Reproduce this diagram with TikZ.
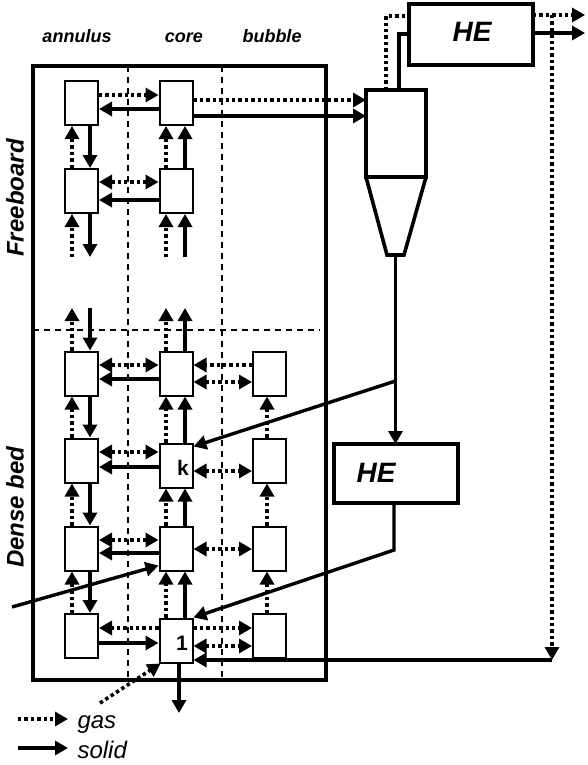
\documentclass[tikz,border=0pt]{standalone}
\usepackage{fontspec}
\setmainfont{Liberation Sans}
\usetikzlibrary{arrows.meta}

\begin{document}
\begin{tikzpicture}[x=1pt,y=-1pt,>={Triangle[length=13pt,width=14pt]},
  cell/.style={draw,line width=2pt,minimum width=33pt,minimum height=44pt,inner sep=0pt},
  unit/.style={draw,line width=3.6pt,inner sep=0pt,outer sep=0pt},
  gas/.style={line width=3.6pt,dash pattern=on 3.4pt off 3pt},
  sol/.style={line width=3.4pt},
  zone/.style={line width=1.4pt,dash pattern=on 6pt off 5pt},
  colname/.style={anchor=base,font=\bfseries\itshape\fontsize{18}{20}\selectfont},
  regname/.style={rotate=90,font=\bfseries\itshape\fontsize{24}{26}\selectfont},
  hename/.style={font=\bfseries\itshape\fontsize{28}{30}\selectfont},
  cellno/.style={font=\bfseries\fontsize{21}{22}\selectfont},
  legname/.style={anchor=base west,font=\itshape\fontsize{24}{26}\selectfont}]
\useasboundingbox (0,0) rectangle (587,765);

\node[draw,line width=3.8pt,minimum width=293pt,minimum height=614pt,outer sep=0pt] (bed) at (179.5,373) {};
\draw[zone] (bed.north -| 128,0) -- (bed.south -| 128,0);
\draw[zone] (bed.north -| 222,0) -- (bed.south -| 222,0);
\coordinate (zend) at (320,330);
\draw[zone] (bed.west |- zend) -- (zend);

\node[colname] (lann) at (77,43) {annulus};
\node[colname] (lcore) at (184,43) {core};
\node[colname] (lbub) at (272,43) {bubble};
\node[regname] (lfree) at (15,198) {Freeboard};
\node[regname] (ldense) at (15,507) {Dense bed};

\node[cell] (fa1) at (81.5,103) {};
\node[cell] (fc1) at (176,103) {};
\node[cell] (fa2) at (81.5,191) {};
\node[cell] (fc2) at (176,191) {};
\foreach \r/\y in {4/373.5,3/460.5,2/548.5,1/636} {
  \node[cell] (a\r) at (81.5,\y) {};
  \node[cell] (b\r) at (269.5,\y) {};
}
\node[cell] (c4) at (176,373.5) {};
\node[cell] (c3) at (176,465.5) {};
\node[cell] (c2) at (176,548.5) {};
\node[cell] (c1) at (176,640.5) {};
\node[cellno] (kno) at ([xshift=7pt,yshift=-2.5pt]c3.center) {k};
\node[cellno] (one) at ([xshift=6pt,yshift=-2.5pt]c1.center) {1};

\draw[gas,->] (fa1.east |- 0,95) -- (fc1.west |- 0,95);
\draw[sol,->] (fc1.west |- 0,109) -- (fa1.east |- 0,109);
\draw[gas,<->] (fa2.east |- 0,182) -- (fc2.west |- 0,182);
\draw[sol,->] (fc2.west |- 0,200) -- (fa2.east |- 0,200);

\draw[gas,<->] (a4.east |- 0,365) -- (c4.west |- 0,365);
\draw[sol,->] (c4.west |- 0,379) -- (a4.east |- 0,379);
\draw[gas,->] (b4.west |- 0,365) -- (c4.east |- 0,365);
\draw[gas,<->] (c4.east |- 0,382) -- (b4.west |- 0,382);
\draw[gas,<->] (a3.east |- 0,452) -- (c3.west |- 0,452);
\draw[sol,->] (c3.west |- 0,467) -- (a3.east |- 0,467);
\draw[gas,<->] (c3.east |- 0,471) -- (b3.west |- 0,471);
\draw[gas,<->] (a2.east |- 0,540) -- (c2.west |- 0,540);
\draw[sol,->] (c2.west |- 0,553) -- (a2.east |- 0,553);
\draw[gas,<->] (c2.east |- 0,549) -- (b2.west |- 0,549);
\draw[gas,->] (c1.west |- 0,628) -- (a1.east |- 0,628);
\draw[sol,->] (a1.east |- 0,643) -- (c1.west |- 0,643);
\draw[gas,->] (c1.east |- 0,628) -- (b1.west |- 0,628);
\draw[gas,<->] (c1.east |- 0,646) -- (b1.west |- 0,646);

\foreach \lo/\hi in {1/2,2/3,3/4} {
  \draw[gas,->] (a\lo.north -| 72,0) -- (a\hi.south -| 72,0);
  \draw[sol,->] (a\hi.south -| 90,0) -- (a\lo.north -| 90,0);
  \draw[gas,->] (c\lo.north -| 166,0) -- (c\hi.south -| 166,0);
  \draw[sol,->] (c\lo.north -| 185,0) -- (c\hi.south -| 185,0);
  \draw[gas,->] (b\lo.north -| 267,0) -- (b\hi.south -| 267,0);
}
\draw[gas,->] (fa2.north -| 72,0) -- (fa1.south -| 72,0);
\draw[sol,->] (fa1.south -| 90,0) -- (fa2.north -| 90,0);
\draw[gas,->] (fc2.north -| 166,0) -- (fc1.south -| 166,0);
\draw[sol,->] (fc2.north -| 185,0) -- (fc1.south -| 185,0);

\coordinate (fbot) at (0,257);
\coordinate (dtop) at (0,308);
\draw[gas,->] (fbot -| 72,0) -- (fa2.south -| 72,0);
\draw[sol,->] (fa2.south -| 90,0) -- (fbot -| 90,0);
\draw[gas,->] (fbot -| 166,0) -- (fc2.south -| 166,0);
\draw[sol,->] (fbot -| 185,0) -- (fc2.south -| 185,0);
\draw[gas,->] (a4.north -| 72,0) -- (dtop -| 72,0);
\draw[sol,->] (dtop -| 90,0) -- (a4.north -| 90,0);
\draw[gas,->] (c4.north -| 166,0) -- (dtop -| 166,0);
\draw[sol,->] (c4.north -| 185,0) -- (dtop -| 185,0);

\node[unit,minimum width=60pt,minimum height=87pt] (cyc) at (396,133.5) {};
\coordinate (cbot) at (395.5,255);
\draw[line width=3.6pt] (cyc.south west) -- (387,255) -- (404,255) -- (cyc.south east);
\node[unit,minimum width=124pt,minimum height=61pt] (he1) at (471,34.5) {};
\node[hename] (he1t) at (472,32) {HE};
\node[unit,minimum width=124pt,minimum height=59pt] (he2) at (396,473.5) {};
\node[hename] (he2t) at (376,473) {HE};

\draw[gas,->] (fc1.east |- 0,100) -- (cyc.west |- 0,100);
\draw[sol,->] (fc1.east |- 0,116) -- (cyc.west |- 0,116);
\draw[gas] (cyc.north -| 386,0) |- (he1.west |- 0,16);
\draw[sol] (cyc.north -| 399,0) |- (he1.west |- 0,34);

\coordinate (gout) at (585,15);
\coordinate (sout) at (585,33);
\coordinate (rc) at (552,660);
\draw[gas,->] (he1.east |- gout) -- (gout);
\draw[sol,->] (he1.east |- sout) -- (sout);
\draw[gas,->] (rc |- gout) -- (rc);
\draw[sol,->] (rc) -- (c1.east |- rc);

\coordinate (br) at (395.5,381);
\coordinate (hek) at (394,550);
\coordinate (lin) at (12,607);
\coordinate (sbot) at (179,713);
\coordinate (gin) at (100,703);
\draw[sol,->] (cbot) -- (cbot |- he2.north);
\draw[sol,->] (br) -- ([yshift=-4pt]c3.north east);
\draw[sol,->] (he2.south -| hek) -- (hek) -- (c1.north east);
\draw[sol,->] (lin) -- ([yshift=6pt]c2.south west);
\draw[sol,->] (c1.south -| sbot) -- (sbot);
\draw[gas,->] (gin) -- ([xshift=2pt]c1.south west);

\coordinate (lg0) at (18,719);
\coordinate (lg1) at (68,719);
\coordinate (ls0) at (18,748);
\coordinate (ls1) at (68,748);
\draw[gas,->] (lg0) -- (lg1);
\draw[sol,->] (ls0) -- (ls1);
\node[legname] (lgas) at (74,728) {gas};
\node[legname] (lsol) at (74,758) {solid};
\end{tikzpicture}
\end{document}
